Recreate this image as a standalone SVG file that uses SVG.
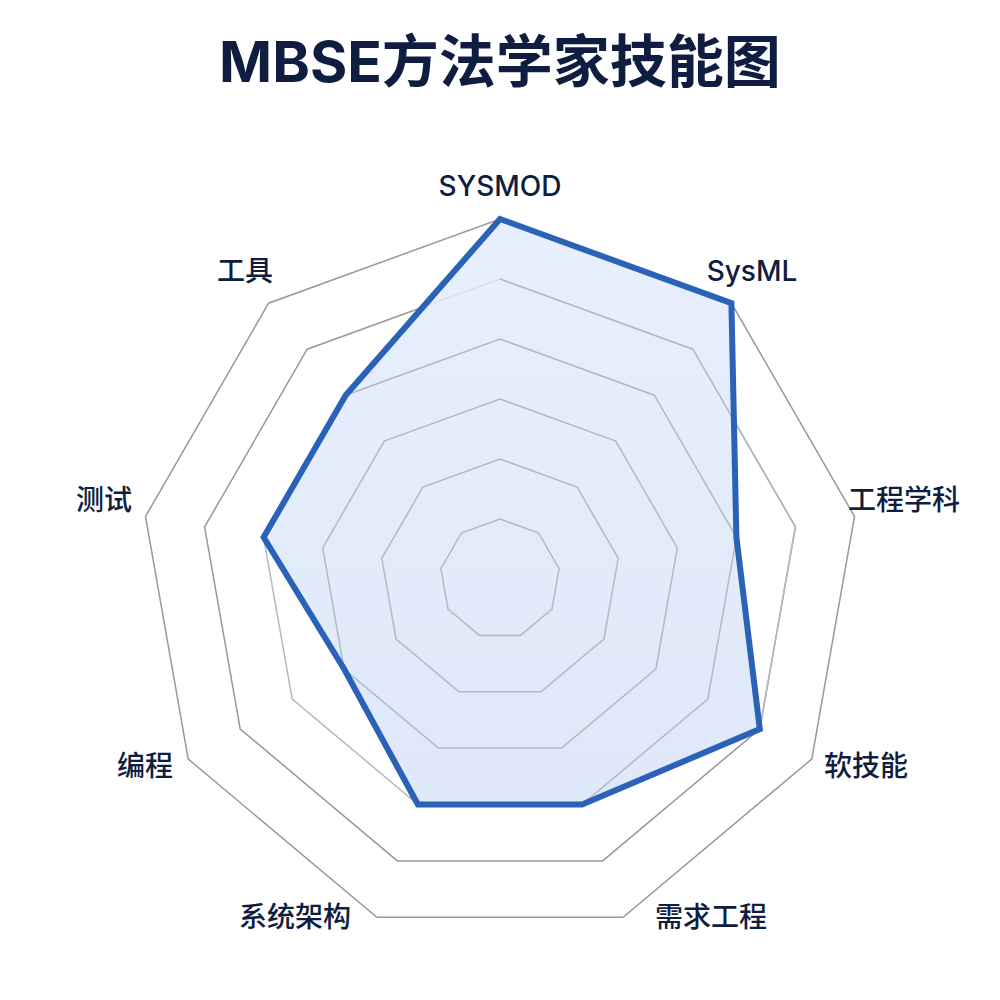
<svg xmlns="http://www.w3.org/2000/svg" width="1000" height="1000" viewBox="0 0 1000 1000">
<defs>
<linearGradient id="bg" x1="0" y1="0" x2="0" y2="1"><stop offset="0" stop-color="#fdfdfd"/><stop offset="1" stop-color="#eeeff3"/></linearGradient>
<linearGradient id="df" x1="0" y1="0" x2="0" y2="1"><stop offset="0" stop-color="#e3edfd"/><stop offset="1" stop-color="#d9e4f7"/></linearGradient>
</defs>
<style>
.lbl{font-family:"Inter","Noto Sans CJK SC",sans-serif;font-size:28px;font-weight:500;fill:#0f1d40;text-anchor:middle}
.g1{fill:none;stroke:#999;stroke-width:1.5}
.g2{fill:none;stroke:#b4b9c4;stroke-width:1.5}
</style>
<rect width="1000" height="1000" fill="#fff"/>
<text x="500" y="82" font-family="Inter,'Noto Sans CJK SC',sans-serif" font-size="57" font-weight="bold" fill="#0f1d40" text-anchor="middle">MBSE方法学家技能图</text>
<g id="grid">
<polygon fill="url(#bg)" class="g1" points="500,219 731.4,303.2 854.5,516.5 811.8,759 623.1,917.3 376.9,917.3 188.2,759 145.5,516.5 268.6,303.2"/>
<polygon class="g1" points="500,279 692.8,349.2 795.4,526.9 759.8,729 602.6,860.9 397.4,860.9 240.2,729 204.6,526.9 307.2,349.2"/>
</g>
<g id="data">
<polygon fill="url(#df)" fill-opacity="0.85" points="500,219 731.4,303.2 736.4,537.3 759.8,729 582.1,804.5 417.9,804.5 344.1,669 263.6,537.3 345.7,395.2"/>
</g>
<g id="innergrid">
<polygon class="g2" points="500,339 654.3,395.2 736.4,537.3 707.8,699 582.1,804.5 417.9,804.5 292.2,699 263.6,537.3 345.7,395.2"/>
<polygon class="g2" points="500,399 615.7,441.1 677.3,547.8 655.9,669 561.6,748.1 438.4,748.1 344.1,669 322.7,547.8 384.3,441.1"/>
<polygon class="g2" points="500,459 577.1,487.1 618.2,558.2 603.9,639 541,691.8 459,691.8 396.1,639 381.8,558.2 422.9,487.1"/>
<polygon class="g2" points="500,519 538.6,533 559.1,568.6 552,609 520.5,635.4 479.5,635.4 448,609 440.9,568.6 461.4,533"/>
<polyline class="g2" points="500,279 692.8,349.2 795.4,526.9 759.8,729"/>
</g>
<g id="outline">
<polygon fill="none" stroke="#2a62b8" stroke-width="6" points="500,219 731.4,303.2 736.4,537.3 759.8,729 582.1,804.5 417.9,804.5 344.1,669 263.6,537.3 345.7,395.2"/>
</g>
<g id="labels">
<text class="lbl" x="500" y="196">SYSMOD</text>
<text class="lbl" x="752" y="281">SysML</text>
<text class="lbl" x="904" y="510">工程学科</text>
<text class="lbl" x="866" y="776">软技能</text>
<text class="lbl" x="711" y="927">需求工程</text>
<text class="lbl" x="295" y="927">系统架构</text>
<text class="lbl" x="145" y="776">编程</text>
<text class="lbl" x="104" y="510">测试</text>
<text class="lbl" x="245" y="281">工具</text>
</g>
</svg>
